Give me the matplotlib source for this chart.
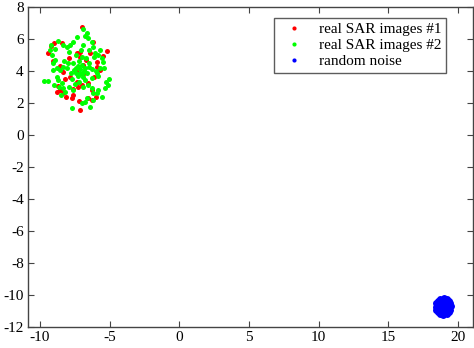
import matplotlib.pyplot as plt

# t-SNE style embedding of the three sample sets
sar1_x = [-8.99, -8.45, -9.40, -9.09, -8.33, -7.01, -7.37, -7.13, -6.17, -6.41,
          -5.93, -5.22, -5.46, -7.85, -7.37, -7.25, -6.53, -6.29, -7.73, -7.61,
          -6.29, -6.53, -7.13, -8.57, -8.33, -8.69, -5.69, -5.93, -6.89, -7.13,
          -9.21, -8.55, -8.20, -7.40, -6.10, -7.60, -7.00, -6.70, -8.80, -7.90,
          -6.00, -7.20, -6.85, -8.10]
sar1_y = [5.73, 5.77, 5.15, 4.63, 3.96, 6.73, 5.15, 5.21, 5.83, 5.10,
          4.58, 5.27, 4.94, 3.65, 3.33, 3.02, 3.23, 2.81, 2.29, 2.50,
          2.19, 2.29, 1.56, 2.81, 2.60, 3.06, 4.06, 4.27, 4.38, 4.90,
          5.56, 4.30, 3.50, 4.00, 3.60, 2.90, 3.10, 4.70, 2.70, 4.80,
          2.40, 2.10, 3.90, 2.40]

sar2_x = [-6.94, -6.65, -6.53, -6.77, -7.37, -7.61, -7.85, -8.09, -8.33, -9.28,
          -9.16, -8.92, -9.04, -6.29, -6.17, -6.46, -6.05, -5.69, -5.81, -5.58,
          -5.46, -9.04, -8.80, -8.57, -8.33, -8.09, -9.40, -8.69, -8.45, -8.33,
          -8.21, -6.89, -6.53, -6.29, -6.17, -5.81, -5.58, -5.34, -5.10, -5.03,
          -7.73, -6.77, -6.41, -6.29, -5.93, -5.69, -7.20, -7.00, -6.80, -7.40,
          -7.10, -6.60, -7.30, -6.90, -7.60, -6.50, -7.80, -6.30, -7.00, -7.40,
          -6.70, -7.70, -7.50, -7.20, -6.00, -5.80, -8.00, -7.90, -7.60, -8.60,
          -8.80, -9.00, -8.50, -7.00, -6.60, -6.20, -5.90, -9.71, -6.85, -7.25,
          -7.55, -6.45, -6.95, -7.15, -6.75, -7.45, -8.95, -9.20, -5.25, -5.40,
          -7.05, -6.90, -8.25, -7.95, -6.15, -8.70]
sar2_y = [6.63, 6.35, 6.04, 6.19, 6.15, 5.83, 5.63, 5.52, 5.63, 5.31,
          5.00, 4.69, 4.48, 5.83, 5.52, 5.31, 5.10, 5.31, 5.00, 4.79,
          4.58, 4.06, 4.17, 4.06, 4.27, 4.17, 3.38, 3.44, 3.23, 2.92,
          2.71, 3.02, 3.13, 2.92, 2.60, 2.81, 2.40, 2.92, 3.13, 3.48,
          1.67, 2.08, 1.77, 3.54, 3.85, 4.17, 4.60, 4.40, 4.20, 4.20,
          3.90, 3.90, 3.70, 3.60, 4.50, 4.50, 3.90, 4.10, 4.90, 5.00,
          4.80, 3.50, 3.20, 3.30, 4.00, 3.70, 4.50, 3.00, 2.80, 3.00,
          3.60, 3.10, 2.50, 2.00, 2.30, 2.20, 2.60, 3.40, 4.00, 4.30,
          4.05, 4.25, 3.80, 4.15, 3.45, 3.85, 5.40, 5.60, 3.30, 4.20,
          5.30, 5.60, 4.60, 5.20, 4.85, 5.90]

noise_x = [18.95, 19.15, 18.75, 18.95, 18.95, 19.09, 18.81, 19.09, 18.81,
           19.35, 18.55, 18.95, 18.95, 19.23, 18.67, 19.23, 18.67, 19.32, 19.32,
           18.58, 18.58, 19.10, 18.80, 19.10, 18.80, 19.48, 18.42, 18.97, 18.93,
           19.35, 18.55, 19.35, 18.55, 19.20, 18.70, 19.20, 18.70, 19.45, 18.45,
           19.45, 18.45]
noise_y = [-10.72, -10.72, -10.72, -10.52, -10.92, -10.58, -10.58, -10.86, -10.86,
           -10.72, -10.72, -10.32, -11.12, -10.44, -10.44, -11.00, -11.00, -10.57, -10.87,
           -10.57, -10.87, -10.35, -10.35, -11.09, -11.09, -10.70, -10.75, -10.18, -11.25,
           -10.35, -10.35, -11.08, -11.08, -10.22, -10.22, -11.20, -11.20, -10.50, -10.50,
           -10.92, -10.92]

xticks = [-10, -5, 0, 5, 10, 15, 20]
yticks = [-12, -10, -8, -6, -4, -2, 0, 2, 4, 6, 8]

plt.rcParams['font.family'] = ['Liberation Serif', 'DejaVu Serif']
plt.rcParams['axes.unicode_minus'] = False

fig = plt.figure(figsize=(4.74, 3.48), dpi=100)
ax = fig.add_axes([28 / 474, 1 - 327 / 348, 445 / 474, 320 / 348])

ax.plot(sar1_x, sar1_y, 'o', color=(1, 0, 0), ms=3.6, mew=0, label='real SAR images #1')
ax.plot(sar2_x, sar2_y, 'o', color=(0, 1, 0), ms=3.6, mew=0, label='real SAR images #2')
ax.plot(noise_x, noise_y, 'o', color=(0, 0, 1), ms=5, mew=0, label='random noise')

ax.set_xlim(-10.86, 21.08)
ax.set_ylim(-12, 8)
ax.set_xticks(xticks)
ax.set_yticks(yticks)
ax.tick_params(direction='in', top=True, right=True, length=4, width=0.8,
               color='#444444', labelsize=11, pad=3)
for s in ax.spines.values():
    s.set_color('#444444')
    s.set_linewidth(1.0)

leg = ax.legend(loc='upper right', bbox_to_anchor=(0.939, 0.966), borderaxespad=0,
                fontsize=11, frameon=True, fancybox=False, handlelength=2.0,
                handletextpad=0.6, borderpad=0.3, labelspacing=0.15)
for h in leg.legend_handles:
    h.set_markersize(3)
leg.get_frame().set_edgecolor('#333333')
leg.get_frame().set_linewidth(1.0)

fig.savefig('out.png', dpi=100)
